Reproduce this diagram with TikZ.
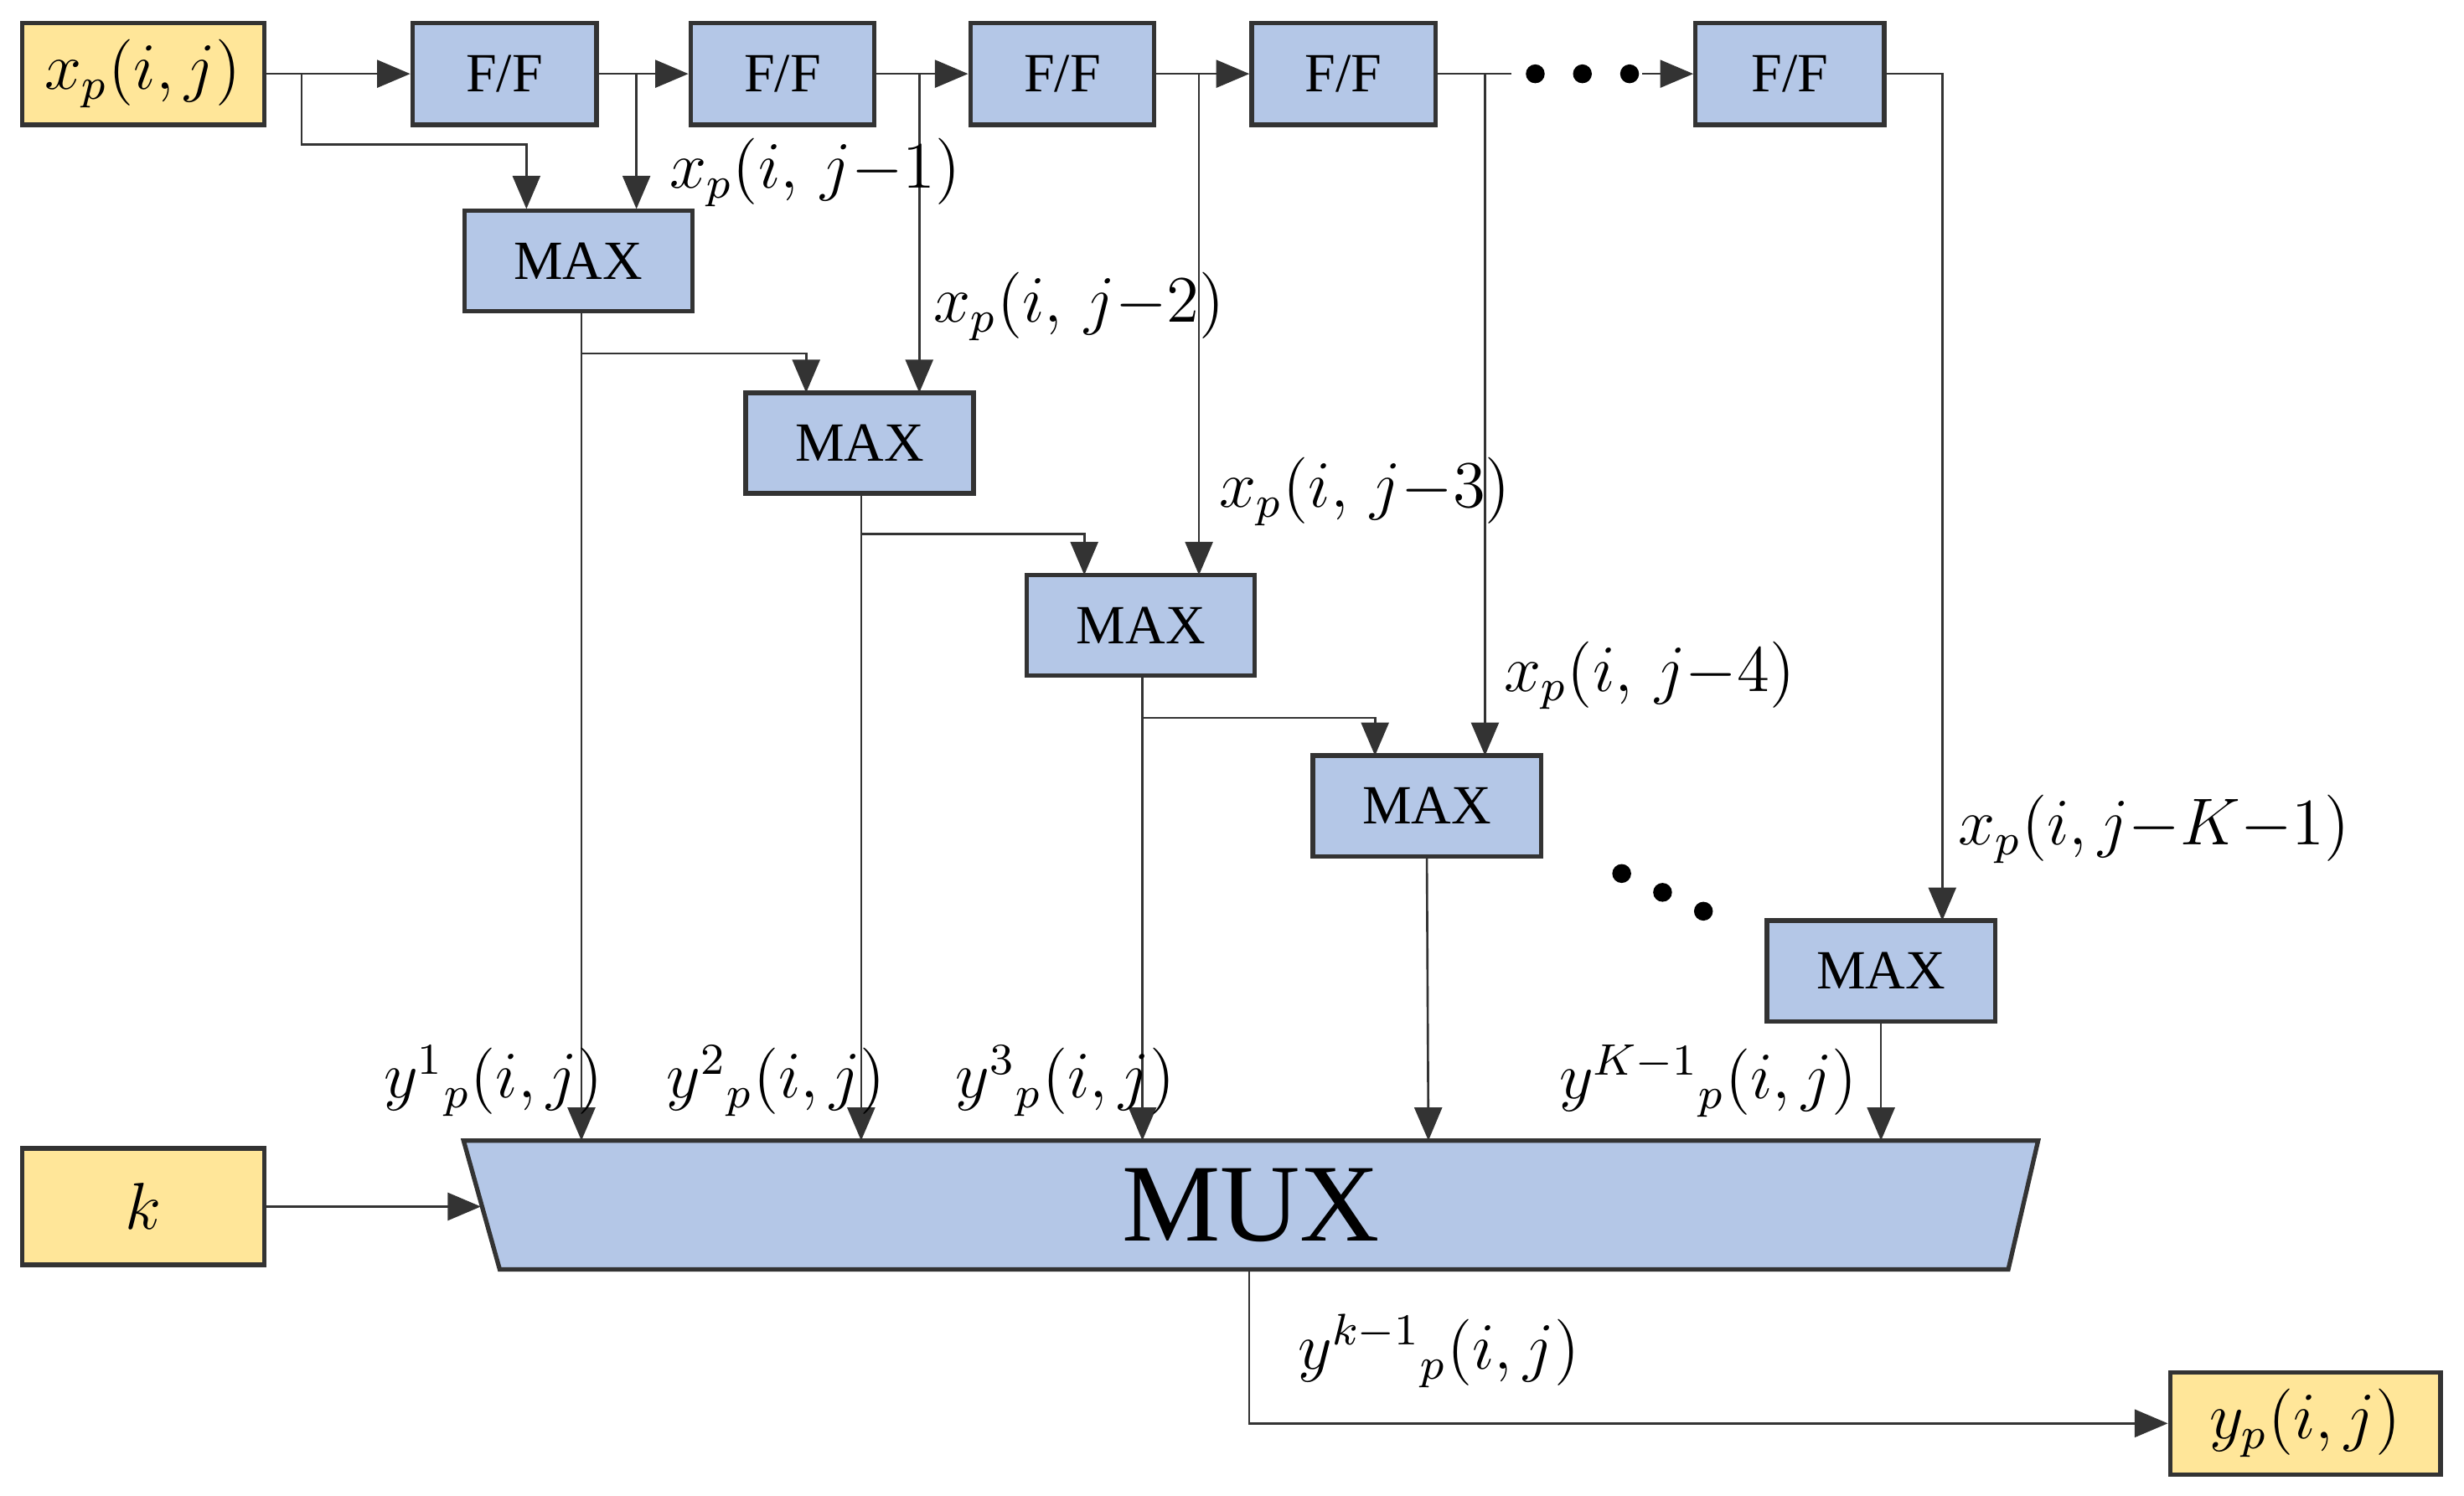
\documentclass[tikz,border=0pt]{standalone}
\usepackage{fontspec}
\setmainfont{Liberation Serif}
\usetikzlibrary{arrows.meta}
\begin{document}
\begin{tikzpicture}[x=0.01cm,y=-0.01cm,
  blk/.style={draw=black!80,thick,fill=blue!20!cyan!10!gray!30,fill=bluebox,inner sep=0pt,font=\fontsize{10}{12}\selectfont},
  io/.style={draw=black!80,thick,fill=yelbox,inner sep=0pt,minimum width=1.54cm,minimum height=0.65cm,font=\fontsize{12}{14}\selectfont},
  ff/.style={blk,minimum width=1.17cm,minimum height=0.65cm},
  mx/.style={blk,minimum width=1.45cm,minimum height=0.64cm},
  arr/.style={-{Triangle[length=6pt,width=5pt]},black!80},
  lbl/.style={font=\fontsize{12}{14}\selectfont,anchor=west,inner sep=1pt}]
\definecolor{bluebox}{HTML}{B4C7E7}
\definecolor{yelbox}{HTML}{FFE699}
\useasboundingbox (0,0) rectangle (1568,952);

% inputs and outputs
\node[io] (xin) at (91,47) {$x_p(i,j)$};
\node[io,minimum height=0.74cm] (kin) at (91,768) {$k$};
\node[io,minimum width=1.72cm] (yout) at (1467,906) {$y_p(i,j)$};

% flip-flops
\node[ff] (ff1) at (321,47) {F/F};
\node[ff] (ff2) at (498,47) {F/F};
\node[ff] (ff3) at (676,47) {F/F};
\node[ff] (ff4) at (855,47) {F/F};
\node[ff,minimum width=1.2cm] (ff5) at (1139,47) {F/F};

% max units
\node[mx] (m1) at (368,166) {MAX};
\node[mx] (m2) at (547,282) {MAX};
\node[mx] (m3) at (726,398) {MAX};
\node[mx] (m4) at (908,513) {MAX};
\node[mx] (m5) at (1197,618) {MAX};

% mux
\draw[draw=black!80,thick,fill=bluebox] (295,726) -- (1297,726) -- (1278,808) -- (318,808) -- cycle;
\node[font=\fontsize{20}{24}\selectfont] (mux) at (796,767) {MUX};
\coordinate (muxl) at (306,768);
\coordinate (muxb) at (795,808);

% shift chain
\draw[arr] (xin) -- (ff1);
\draw[arr] (ff1) -- (ff2);
\draw[arr] (ff2) -- (ff3);
\draw[arr] (ff3) -- (ff4);
\draw[black!80] (ff4.east) -- (962,47);
\coordinate (d0) at (1045,47);
\draw[arr] (d0) -- (ff5);
\foreach \x in {977,1007,1037} \fill (\x,47) circle (6);

% taps
\coordinate (t0) at (192,47);
\draw[arr] (t0) |- (335,92) -- (335,133);
\coordinate (t1) at (405,47);
\draw[arr] (t1) -- (405,133);
\coordinate (t2) at (585,47);
\draw[arr] (t2) -- (585,250);
\coordinate (t3) at (763,47);
\draw[arr] (t3) -- (763,366);
\coordinate (t4) at (945,47);
\draw[arr] (t4) -- (945,481);
\draw[arr] (ff5.east) -| (1236,586);

% cascade
\draw[arr] (370,198) -- (370,726);
\draw[arr] (370,225) -| (513,250);
\draw[arr] (548,314) -- (548,726);
\draw[arr] (548,340) -| (690,366);
\draw[arr] (727,430) -- (727,726);
\draw[arr] (727,457) -| (875,481);
\draw[arr] (m4.south) -- (909,726);
\draw[arr] (m5.south) -- (1197,726);
\foreach \x/\y in {1032/556,1058/568,1084/580} \fill (\x,\y) circle (6);

\draw[arr] (kin) -- (muxl);
\draw[arr] (muxb) |- (yout);

% labels
\node[lbl] at (422,110) {$x_p(i,\,j{-}1)$};
\node[lbl] at (590,195) {$x_p(i,\,j{-}2)$};
\node[lbl] at (772,313) {$x_p(i,\,j{-}3)$};
\node[lbl] at (953,430) {$x_p(i,\,j{-}4)$};
\node[lbl] at (1242,528) {$x_p(i,j{-}K{-}1)$};
\node[lbl] at (240,688) {$y^1{}_p(i,j)$};
\node[lbl] at (420,688) {$y^2{}_p(i,j)$};
\node[lbl] at (604,688) {$y^3{}_p(i,j)$};
\node[lbl] at (988,688) {$y^{K-1}{}_p(i,j)$};
\node[lbl] at (822,860) {$y^{k-1}{}_p(i,j)$};
\end{tikzpicture}
\end{document}
